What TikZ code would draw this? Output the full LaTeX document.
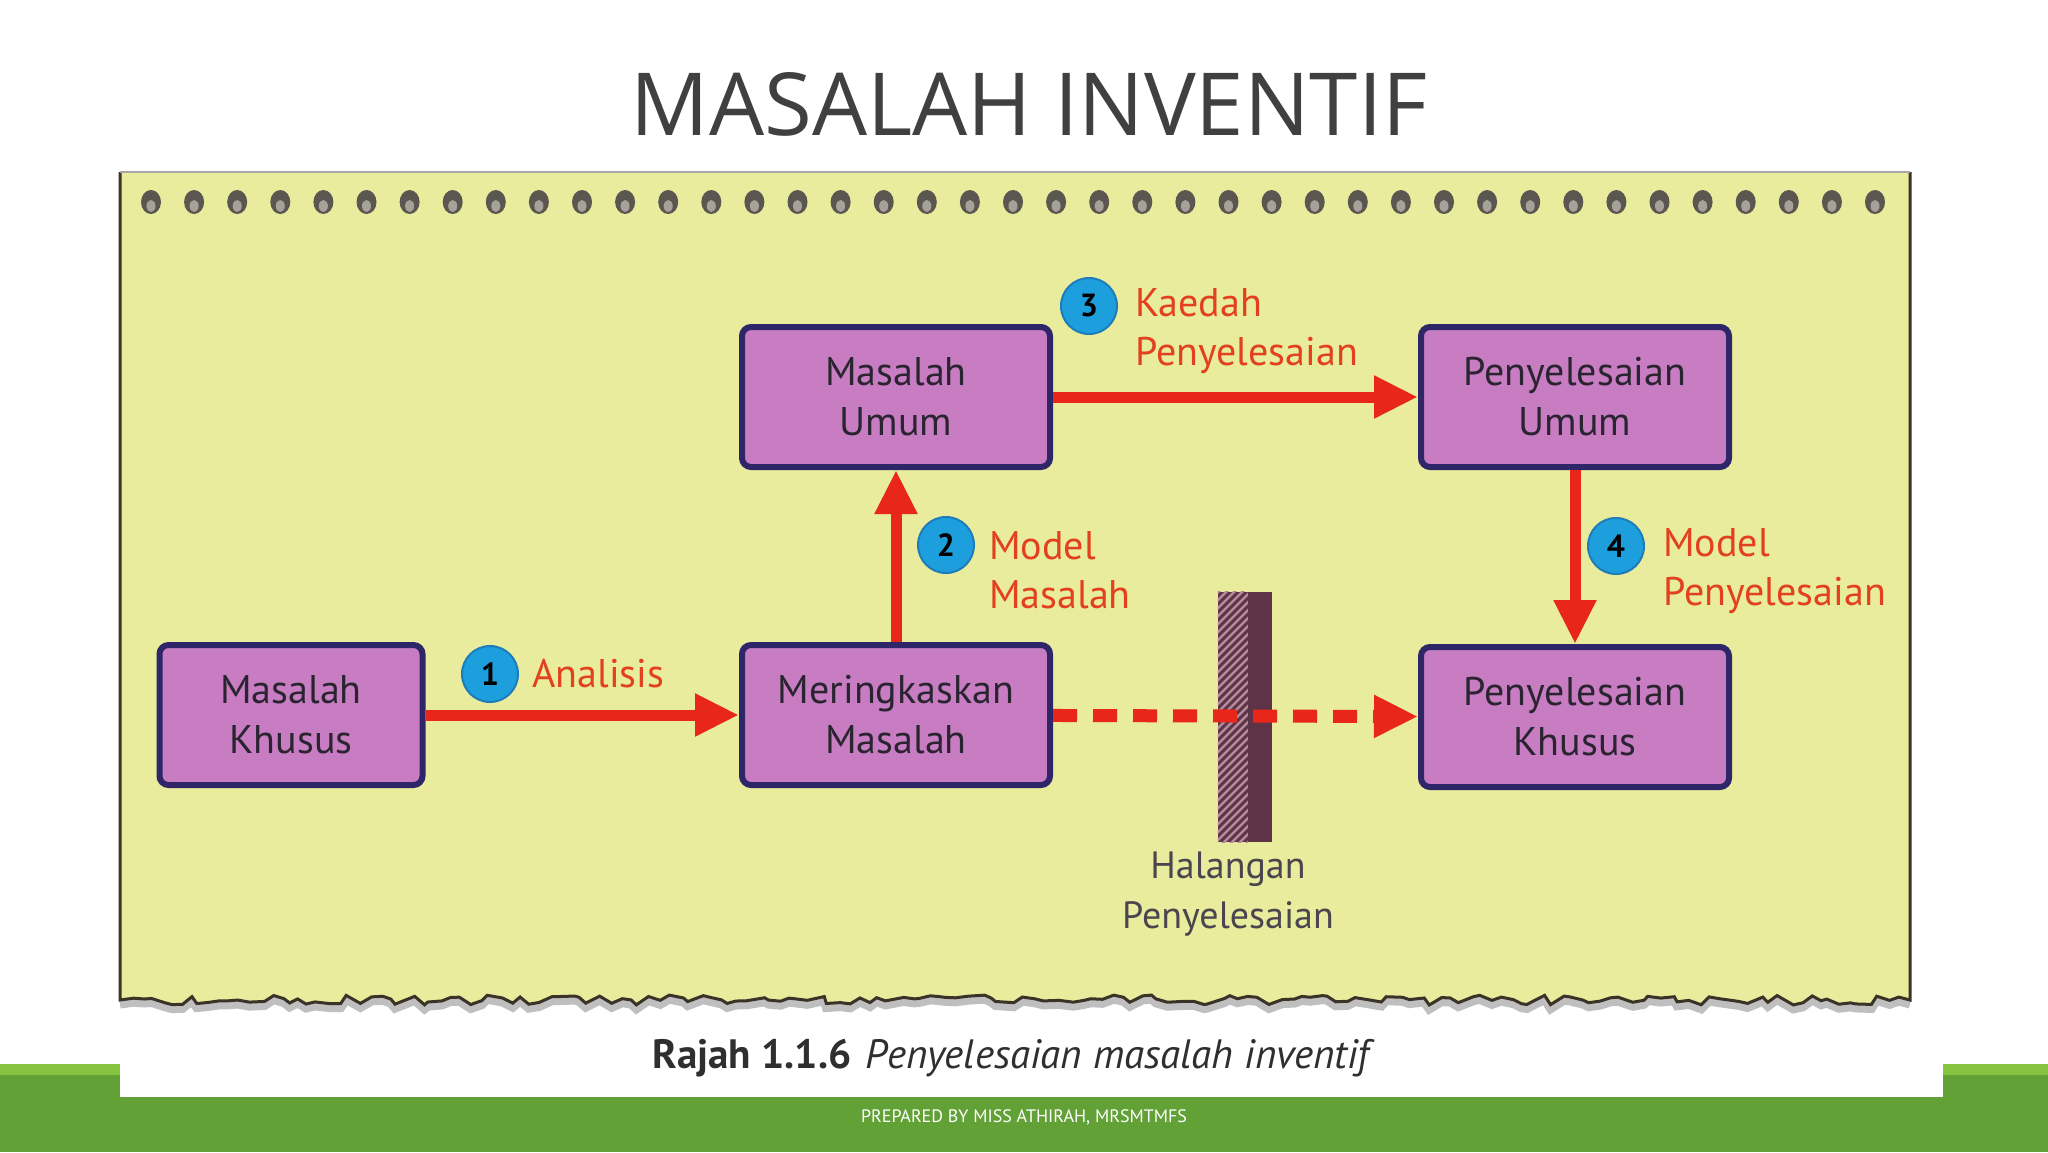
\documentclass[tikz,border=0pt]{standalone}
\usepackage{fontspec}
\setmainfont{PT Sans}
\newfontfamily\titlefont{Open Sans}
\usetikzlibrary{positioning,
        shapes,
        arrows.meta,
        decorations.pathmorphing}
\usepackage{xcolor}

\definecolor{paper}{HTML}{E9EC9C}
\definecolor{edge}{HTML}{3B3228}
\definecolor{holedark}{HTML}{5B5650}
\definecolor{holelite}{HTML}{A7A299}
\definecolor{boxfill}{HTML}{C87DC3}
\definecolor{boxline}{HTML}{2E2668}
\definecolor{boxtext}{HTML}{2A2430}
\definecolor{labelred}{HTML}{E2401F}
\definecolor{arrowred}{HTML}{E8261A}
\definecolor{dotblue}{HTML}{1E9FDD}
\definecolor{dotline}{HTML}{1F7CBA}
\definecolor{wallred}{HTML}{5E3347}
\definecolor{wallstripe}{HTML}{B08A98}
\definecolor{titlegray}{HTML}{404040}
\definecolor{captext}{HTML}{2F2F2F}
\definecolor{greenlite}{HTML}{86C440}
\definecolor{greendark}{HTML}{62A136}

\begin{document}
\begin{tikzpicture}[x=1pt,y=-1pt,
        stage/.style={rectangle,rounded corners=9pt,draw=boxline,line width=6pt,fill=boxfill,
            minimum width=308pt,minimum height=140pt,align=center,text=boxtext,
            font=\fontsize{40}{50}\selectfont},
        numdot/.style={circle,fill=dotblue,draw=dotline,line width=2pt,minimum size=56pt,
            inner sep=0pt,font=\fontsize{32}{32}\selectfont\bfseries},
        steptext/.style={anchor=west,align=left,inner sep=0pt,text=labelred,
            font=\fontsize{40}{49}\selectfont},
        flow/.style={draw=arrowred,line width=11pt,-{Triangle[length=44pt,width=40pt]}}]
    % slide background
    \useasboundingbox (0,0) rectangle (2048,1152);
    \fill[white] (0,0) rectangle (2048,1152);
    \fill[greenlite] (0,1064) rectangle (2048,1075);
    \fill[greendark] (0,1075) rectangle (2048,1152);
    \fill[white] (120,172) rectangle (1943,1097);

    \node [text=titlegray,font=\titlefont\fontsize{87}{87}\selectfont] (title) at (1029,104) {MASALAH INVENTIF};

    % note paper with torn edge
    \pgfmathsetseed{42}
    \draw[black!25,line width=9pt] (1910,1004) decorate[decoration={random steps,segment length=10pt,amplitude=5pt}] {-- (120,1004)};
    \pgfmathsetseed{42}
    \fill[paper] (120,172) -- (1910,172) -- (1910,1000)
        decorate[decoration={random steps,segment length=10pt,amplitude=5pt}] {-- (120,1000)} -- cycle;
    \pgfmathsetseed{42}
    \draw[edge,line width=3pt] (1910,172) -- (1910,1000)
        decorate[decoration={random steps,segment length=10pt,amplitude=5pt}] {-- (120,1000)} -- (120,172);
    \draw[black!35,line width=2pt] (120,172) -- (1910,172);
    \foreach \i in {0,...,40} {
        \fill[holedark] ({151+43.1*\i},202) ellipse [x radius=10pt,y radius=12pt];
        \fill[holelite] ({151+43.1*\i},206) ellipse [x radius=4.5pt,y radius=6pt];
    }

    % boxes
    \node [stage,minimum width=263pt] (khusus) at (291,715) {Masalah\\Khusus};
    \node [stage] (ringkas) at (896,715) {Meringkaskan\\Masalah};
    \node [stage] (umum) at (896,397) {Masalah\\Umum};
    \node [stage] (pumum) at (1575,397) {Penyelesaian\\Umum};
    \node [stage] (pkhusus) at (1575,717) {Penyelesaian\\Khusus};

    % barrier
    \node [rectangle,fill=wallred,minimum width=54pt,minimum height=250pt,inner sep=0pt] (wall) at (1245,717) {};
    \begin{scope}
        \clip (wall.north west) rectangle ([xshift=30pt]wall.south west);
        \foreach \k in {0,...,40}
            \draw[wallstripe,line width=2.5pt] (1210,{600+8*\k}) -- ++(50,-50);
    \end{scope}
    \node [below=6pt of wall,xshift=-17pt,align=center,text=boxtext!85,font=\fontsize{38}{50}\selectfont] (halangan) {Halangan\\Penyelesaian};

    % steps
    \draw[flow] (khusus) -- (ringkas);
    \draw[flow] (ringkas) -- (umum);
    \draw[flow] (umum) -- (pumum);
    \draw[flow] (pumum) -- (pkhusus);
    \draw[flow,line width=13pt,dash pattern=on 24pt off 16pt] (ringkas) -- (pkhusus);

    \node [numdot] (n1) at (490,674) {1};
    \node [steptext] (analisis) at (532,674) {Analisis};
    \node [numdot] (n2) at (946,545) {2};
    \node [steptext] (model1) at (989,570) {Model\\Masalah};
    \node [numdot] (n3) at (1089,306) {3};
    \node [steptext] (kaedah) at (1135,331) {Kaedah\\Penyelesaian};
    \node [numdot] (n4) at (1616,546) {4};
    \node [steptext] (model2) at (1663,571) {Model\\Penyelesaian};

    % caption and footer
    \node [text=captext,font=\fontsize{41}{41}\selectfont] (caption) at (1014,1058)
        {\textbf{Rajah 1.1.6}\hspace{14pt}\textit{Penyelesaian masalah inventif}};
    \node [text=white,font=\fontsize{18}{18}\selectfont] (footer) at (1024,1117) {PREPARED BY MISS ATHIRAH, MRSMTMFS};
\end{tikzpicture}
\end{document}
